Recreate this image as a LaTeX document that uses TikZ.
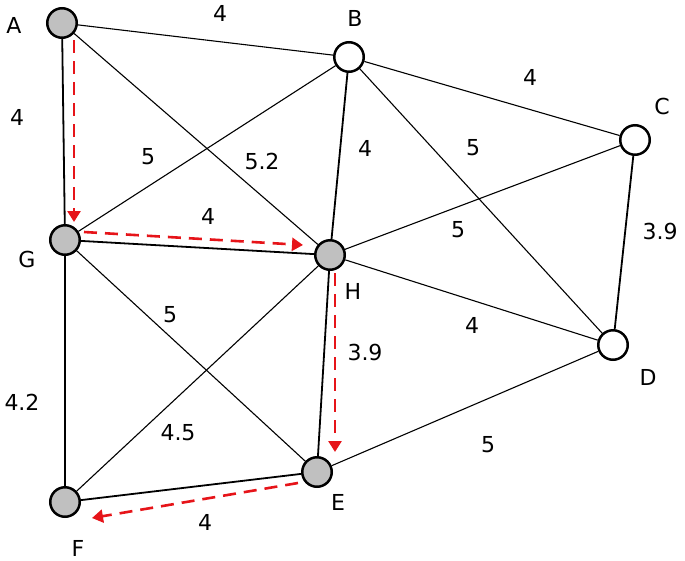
\documentclass[tikz,border=0pt]{standalone}
\usepackage{fontspec}
\setmainfont{DejaVu Sans}
\usetikzlibrary{arrows.meta}
\definecolor{nodegray}{RGB}{192,192,192}
\definecolor{pathred}{RGB}{230,20,25}
\begin{document}
\begin{tikzpicture}[x=1pt,y=-1pt,
  vtx/.style={circle,draw=black,line width=2.5pt,minimum size=29.5pt,inner sep=0pt},
  vg/.style={vtx,fill=nodegray},
  vw/.style={vtx,fill=white},
  lnk/.style={line width=1.1pt},
  lnkthick/.style={line width=1.8pt},
  lab/.style={font=\fontsize{22}{24}\selectfont,inner sep=0pt},
  redpath/.style={pathred,line width=2.6pt,dash pattern=on 13pt off 8pt,
    -{Triangle[length=11pt,width=13pt]}}
]
\useasboundingbox (0,0) rectangle (685,560);
% nodes
\node[vg] (A) at (62,23) {};
\node[vw] (B) at (349,57) {};
\node[vw] (C) at (635,140) {};
\node[vw] (D) at (613,345) {};
\node[vg] (G) at (65,240) {};
\node[vg] (H) at (330,255) {};
\node[vg] (E) at (317,472) {};
\node[vg] (F) at (65,502) {};
% edges
\draw[lnk] (A) -- (B);
\draw[lnkthick] (A) -- (G);
\draw[lnk] (A) -- (H);
\draw[lnk] (G) -- (B);
\draw[lnkthick] (B) -- (H);
\draw[lnk] (B) -- (C);
\draw[lnk] (B) -- (D);
\draw[lnk] (C) -- (H);
\draw[lnkthick] (C) -- (D);
\draw[lnkthick] (G) -- (H);
\draw[lnk] (G) -- (E);
\draw[lnkthick] (G) -- (F);
\draw[lnk] (H) -- (D);
\draw[lnk] (H) -- (F);
\draw[lnkthick] (H) -- (E);
\draw[lnk] (E) -- (D);
\draw[lnkthick] (F) -- (E);
% node names
\node[lab] (lA) at (14,25) {A};
\node[lab] (lB) at (355,18) {B};
\node[lab] (lC) at (662,106) {C};
\node[lab] (lD) at (648,377) {D};
\node[lab] (lG) at (27,259) {G};
\node[lab] (lH) at (353,291) {H};
\node[lab] (lE) at (338,502) {E};
\node[lab] (lF) at (78,548) {F};
% weights
\node[lab] (wAB) at (220,13) {4};
\node[lab] (wAG) at (17,117) {4};
\node[lab] (wBC) at (530,77) {4};
\node[lab] (wGB) at (148,157) {5};
\node[lab] (wAH) at (262,161) {5.2};
\node[lab] (wBH) at (365,148) {4};
\node[lab] (wBD) at (473,148) {5};
\node[lab] (wCD) at (660,231) {3.9};
\node[lab] (wGH) at (208,216) {4};
\node[lab] (wHC) at (458,230) {5};
\node[lab] (wGE) at (170,315) {5};
\node[lab] (wHD) at (472,325) {4};
\node[lab] (wHE) at (365,352) {3.9};
\node[lab] (wGF) at (22,402) {4.2};
\node[lab] (wFH) at (178,433) {4.5};
\node[lab] (wED) at (488,445) {5};
\node[lab] (wFE) at (205,522) {4};
% red path arrows
\draw[redpath] ([shift={(12,17)}]A.center) -- ([shift={(9,-18)}]G.center);
\draw[redpath] ([shift={(19,-8)}]G.center) -- ([shift={(-27,-10)}]H.center);
\draw[redpath] ([shift={(5,18)}]H.center) -- ([shift={(18,-20)}]E.center);
\draw[redpath] ([shift={(-19,11)}]E.center) -- ([shift={(27,16)}]F.center);
\end{tikzpicture}
\end{document}
